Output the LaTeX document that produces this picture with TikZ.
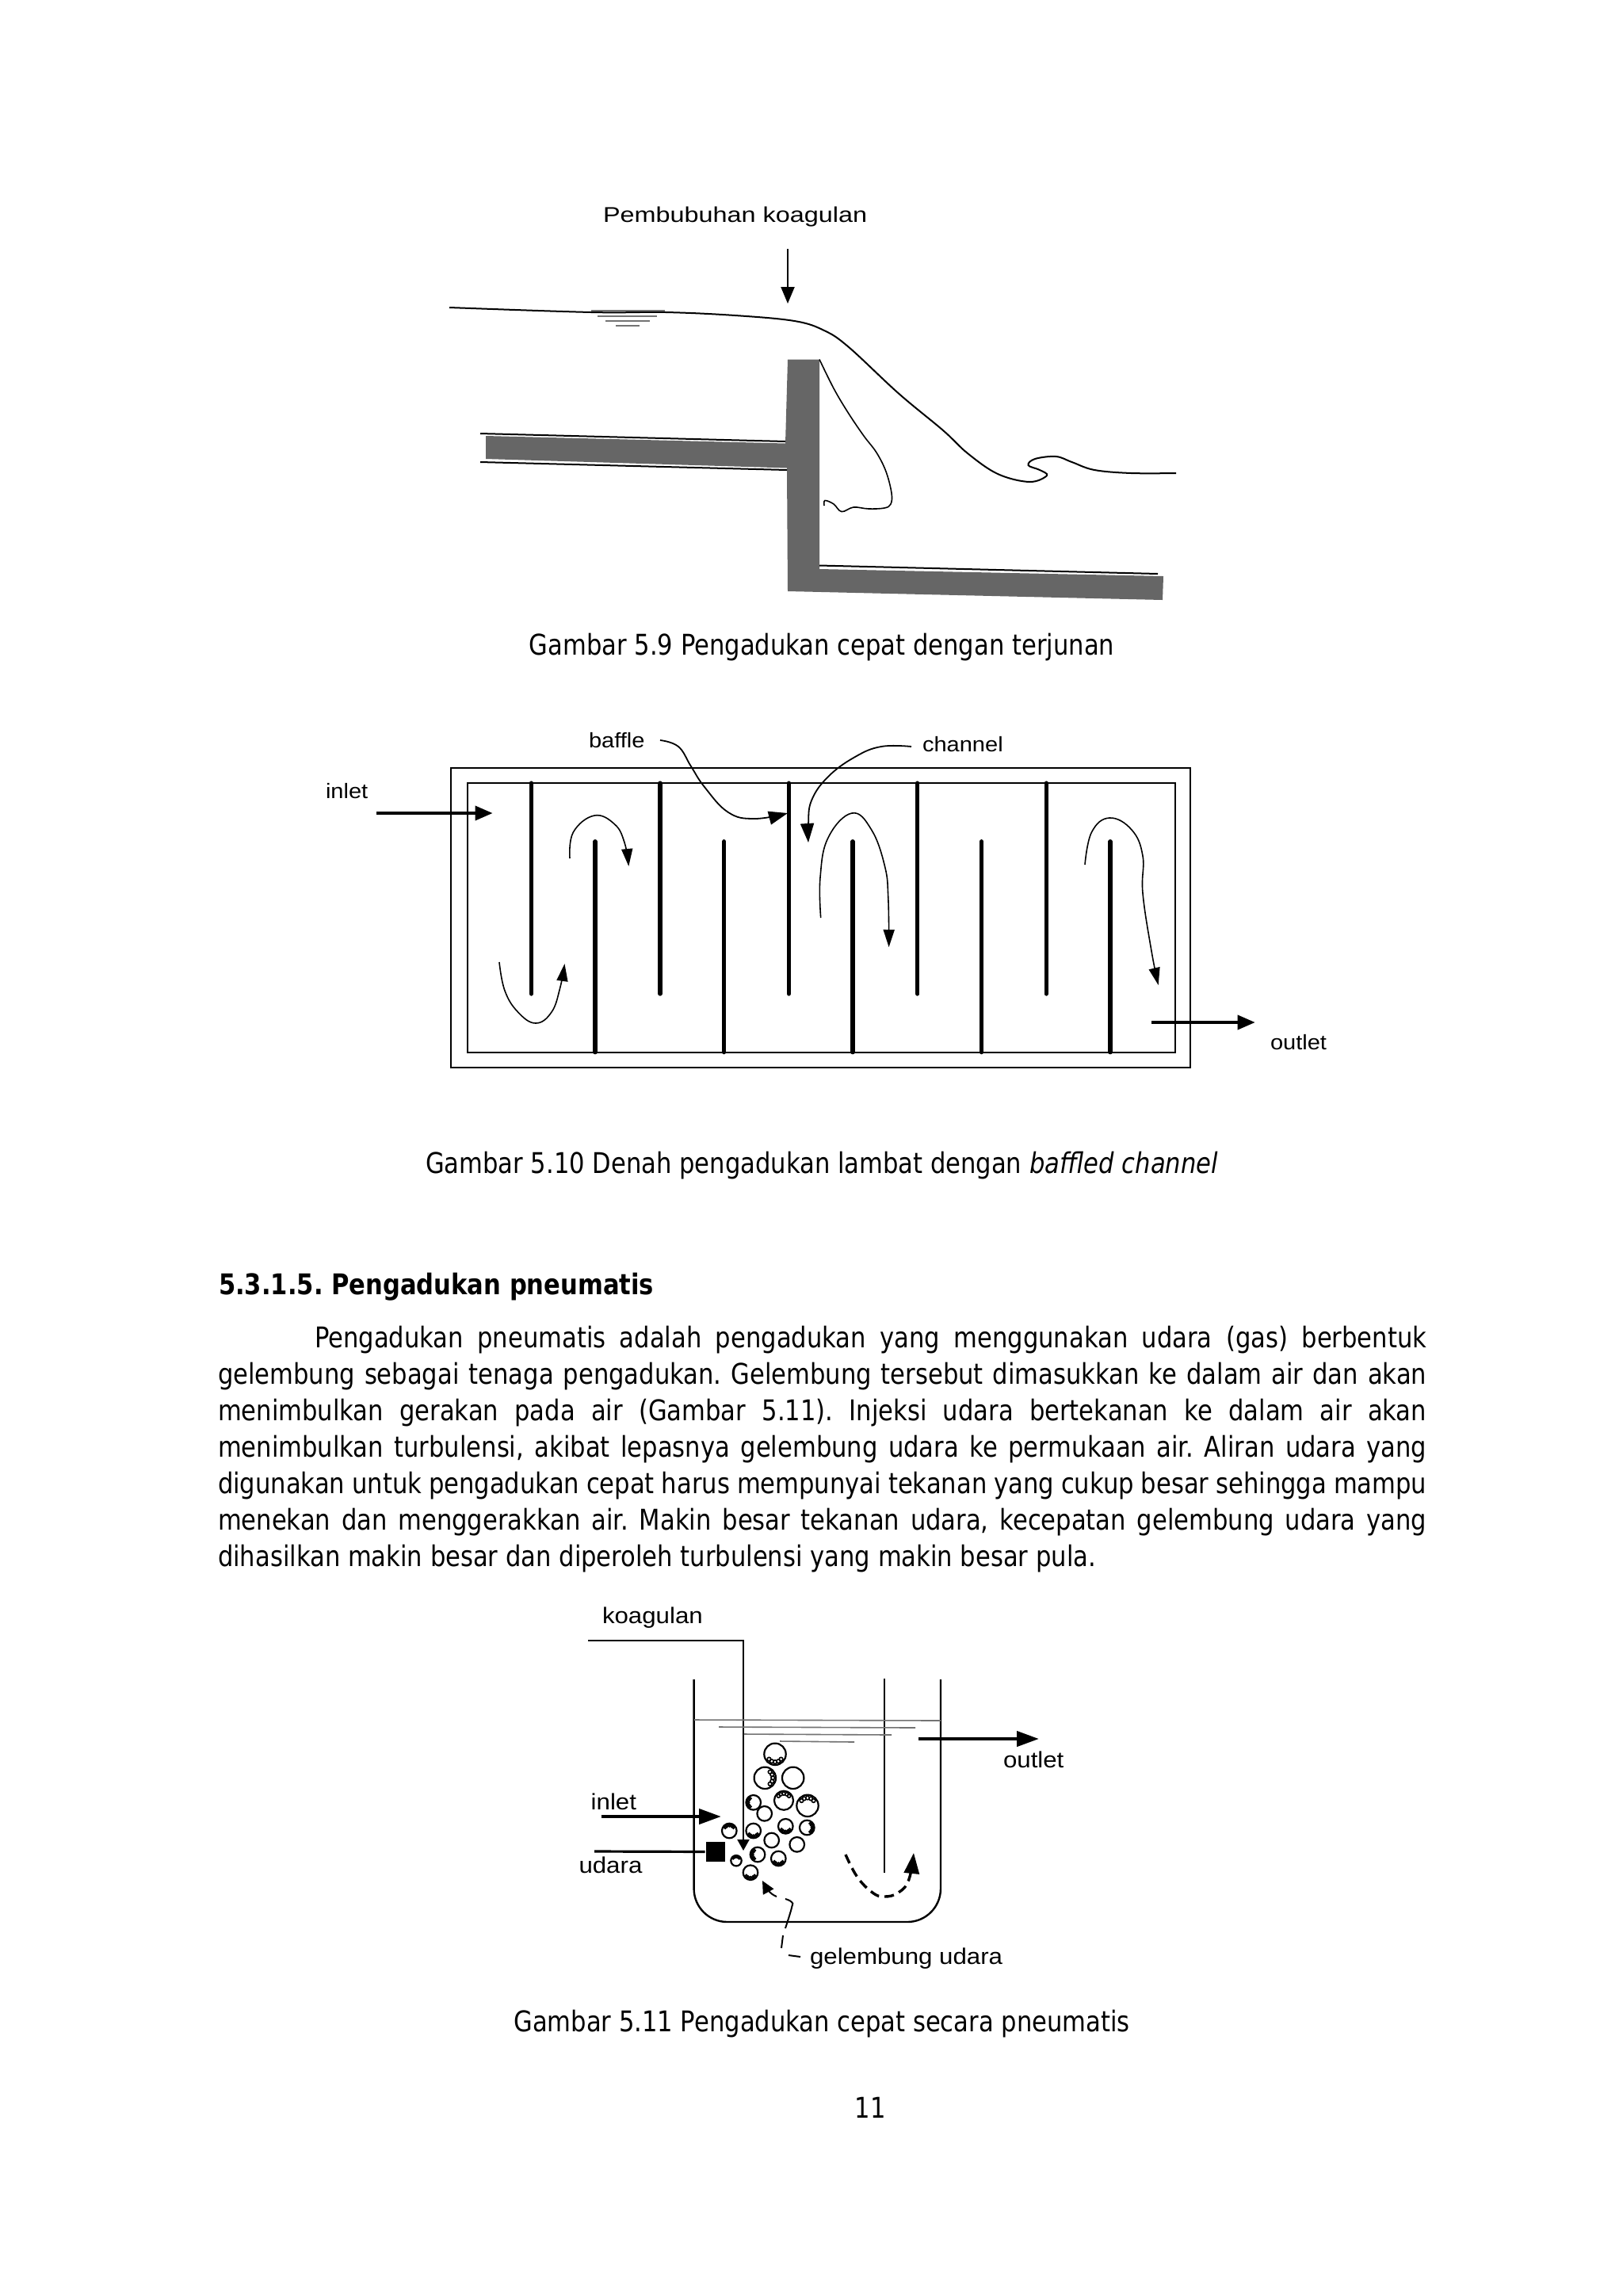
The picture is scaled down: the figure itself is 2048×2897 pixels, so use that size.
\documentclass[tikz,border=0pt]{standalone}
\usepackage{fontspec}
\setmainfont{DejaVu Sans}[FakeStretch=.85]
\newfontfamily\labelfont{Liberation Sans}[FakeStretch=1.1]
\newfontfamily\widelabelfont{Liberation Sans}[FakeStretch=1.2]
\usetikzlibrary{arrows.meta}
\frenchspacing
\tikzset{
  bodytext/.style={inner sep=0,font=\fontsize{18}{23}\selectfont},
  figlabel/.style={inner sep=0,anchor=base west,font=\labelfont\fontsize{13.2}{16}\selectfont},
  tanklabel/.style={figlabel,font=\labelfont\fontsize{14.2}{16}\selectfont},
  widelabel/.style={figlabel,font=\widelabelfont\fontsize{13.5}{15}\selectfont},
  widehead/.style={-{Stealth[inset=0,length=14pt,width=9.5pt]}},
  longhead/.style={-{Stealth[inset=0,length=11pt,width=7pt]}},
  flowline/.style={line width=.8pt,longhead},
  thickflow/.style={line width=2.2pt,widehead},
  baffleline/.style={line width=2.6pt,line cap=round},
  waterline/.style={line width=1pt,color=black!55},
  wallfill/.style={fill=black!60},
  bubbleline/.style={line width=1.1pt}
}
\begin{document}
\begin{tikzpicture}[x=.5pt,y=-.5pt,line width=1pt]
  \fill[white] (0,0) rectangle (2048,2897);
  \useasboundingbox (0,0) rectangle (2048,2897);

  \node[widelabel] (koaglabel) at (760,280) {Pembubuhan koagulan};
  \coordinate (dosea) at (994,314);
  \coordinate (doseb) at (994,383);
  \draw[line width=1.1pt,-{Stealth[inset=0,length=10.5pt,width=8.5pt]}] (dosea)--(doseb);
  \draw plot[smooth,tension=.6] coordinates {(567,388) (746,394) (840,394) (927.5,398) (1002.5,405) (1040,417) (1071,438) (1134,496.5) (1190,543) (1221,572) (1259,598) (1299,608) (1321,600) (1312,593) (1297.5,587) (1306,579) (1332.5,576) (1352.5,583) (1381,593) (1427.5,597) (1484,597)};
  \draw[waterline] (746,392)--(839,392);
  \draw[waterline] (754,399)--(829,399);
  \draw[waterline] (764,405)--(820,405);
  \draw[waterline] (777,411)--(807,411);
  \fill[wallfill] (994,453.5)--(1034,453.5)--(1034,718)--(1468,727)--(1467,757)--(994,746)--(993,593)--(993,590.5)--(613,579)--(613,550)--(991,559.5)--cycle;
  \draw (606,547)--(991,557);
  \draw (606,583)--(993,593);
  \draw (1034,713.5)--(1461,724);
  \draw[line width=.8pt] plot[smooth,tension=.6] coordinates {(1034,453.5) (1052.5,491) (1071,522) (1090,550) (1106,571) (1118,595) (1125,622) (1124,636) (1116,641) (1096,642) (1077,640) (1062,645.6) (1052,636) (1041,631.5) (1040,638)};
  \node[bodytext,anchor=base] (cap59) at (1037,826) {Gambar 5.9 Pengadukan cepat dengan terjunan};

  \draw (569.4,969) rectangle (1502,1346.7);
  \draw (589.6,988) rectangle (1482.7,1327.7);
  \foreach \bx in {670.4,833,995.3,1157.8,1320.2} {
    \draw[baffleline] (\bx,988)--(\bx,1254);
  }
  \foreach \bx in {751,913.7,1076,1238.6,1401} {
    \draw[baffleline] (\bx,1061.7)--(\bx,1327.7);
  }
  \node[figlabel] (inlettop) at (410,1007) {inlet};
  \node[figlabel] (outlettop) at (1602,1324) {outlet};
  \node[figlabel] (bafflelabel) at (742,943) {baffle};
  \node[figlabel] (channellabel) at (1163,948) {channel};
  \coordinate (inleta) at (475,1026);
  \coordinate (inletb) at (621.6,1026);
  \coordinate (outleta) at (1453,1290);
  \coordinate (outletb) at (1583.7,1290);
  \coordinate (baffletip) at (994,1026);
  \coordinate (channeltip) at (1020,1063);
  \draw[line width=1.8pt,-{Stealth[inset=0,length=11pt,width=9pt]}] (inleta)--(inletb);
  \draw[line width=1.8pt,-{Stealth[inset=0,length=11pt,width=9pt]}] (outleta)--(outletb);
  \draw[line width=.9pt,-{Stealth[inset=0,length=12pt,width=8.5pt]}] plot[smooth,tension=.7] coordinates {(833,934) (856,942) (872,967) (889,993) (919,1025) (952,1033) (baffletip)};
  \draw[line width=.9pt,-{Stealth[inset=0,length=12pt,width=8.5pt]}] plot[smooth,tension=.7] coordinates {(1150,942) (1112,942) (1079,955) (1045,980) (1024,1010) (1020,1040) (channeltip)};
  \draw[flowline] plot[smooth,tension=.7] coordinates {(630,1214) (637,1250) (653.6,1277) (676,1291) (696,1277) (706.6,1247) (712.5,1216)};
  \draw[flowline] plot[smooth,tension=.7] coordinates {(719,1083) (723.4,1050) (750,1029) (775.6,1040) (788,1063) (793.3,1093)};
  \draw[flowline] plot[smooth,tension=.7] coordinates {(1035.7,1158) (1035,1107) (1045,1057) (1075,1026) (1099.7,1047) (1116.5,1093) (1120.8,1133) (1121.6,1195)};
  \draw[flowline] plot[smooth,tension=.7] coordinates {(1369,1091) (1377.5,1050) (1400,1032) (1428,1047) (1442,1080) (1442,1127) (1453,1200) (1461.7,1243)};
  \node[bodytext,anchor=base] (cap510) at (1037,1480) {Gambar 5.10 Denah pengadukan lambat dengan \textit{baffled channel}};

  \node[bodytext,anchor=base west,font=\fontsize{18}{23}\selectfont\bfseries] (sectitle) at (275,1633) {5.3.1.5. Pengadukan pneumatis};
  \node[bodytext,anchor=north west,text width=762.5pt,align=justify] (bodypara) at (274,1672) {\hspace*{61pt}Pengadukan pneumatis adalah pengadukan yang menggunakan udara (gas) berbentuk\linebreak
  gelembung sebagai tenaga pengadukan. Gelembung tersebut dimasukkan ke dalam air dan akan\linebreak
  menimbulkan gerakan pada air (Gambar 5.11). Injeksi udara bertekanan ke dalam air akan\linebreak
  menimbulkan turbulensi, akibat lepasnya gelembung udara ke permukaan air. Aliran udara yang\linebreak
  digunakan untuk pengadukan cepat harus mempunyai tekanan yang cukup besar sehingga mampu\linebreak
  menekan dan menggerakkan air. Makin besar tekanan udara, kecepatan gelembung udara yang\linebreak
  dihasilkan makin besar dan diperoleh turbulensi yang makin besar pula.};

  \node[tanklabel] (koagbottom) at (759,2048) {koagulan};
  \coordinate (koaga) at (742,2070);
  \coordinate (koagb) at (938,2070);
  \coordinate (koagc) at (938,2335);
  \draw[line width=1.1pt,-{Stealth[inset=0,length=7pt,width=7.5pt]}] (koaga)--(koagb)--(koagc);
  \coordinate (tanka) at (875.6,2119);
  \coordinate (tankb) at (875.6,2425);
  \coordinate (tankc) at (1187,2425);
  \coordinate (tankd) at (1187,2119);
  \draw[line width=1.2pt,rounded corners=21pt] (tanka)--(tankb)--(tankc)--(tankd);
  \draw[line width=1.1pt] (1116,2118)--(1116,2363);
  \draw[waterline,line width=.8pt] (876,2170)--(1187,2171);
  \draw[waterline,line width=.8pt] (907,2179)--(1155,2180);
  \draw[waterline,line width=.8pt] (938.5,2188)--(1125,2189);
  \draw[waterline,line width=.8pt] (984,2197)--(1078,2198);
  \node[tanklabel] (outletlow) at (1265,2230) {outlet};
  \node[tanklabel] (inletlow) at (744.7,2283) {inlet};
  \node[tanklabel] (udaralabel) at (729.5,2363) {udara};
  \node[tanklabel] (bubblelabel) at (1021,2478) {gelembung udara};
  \coordinate (outa) at (1159,2194);
  \coordinate (outb) at (1311,2194);
  \coordinate (ina) at (758.5,2292);
  \coordinate (inb) at (910,2292);
  \coordinate (aira) at (750,2336);
  \coordinate (leadera) at (1010,2469);
  \coordinate (leaderb) at (995,2467);
  \coordinate (leaderc) at (986,2458);
  \coordinate (leaderd) at (988,2442);
  \coordinate (leadere) at (991,2433);
  \coordinate (leaderf) at (991,2396);
  \coordinate (leaderg) at (980,2393);
  \coordinate (leadertip) at (962,2373);
  \draw[thickflow] (outa)--(outb);
  \draw[thickflow] (ina)--(inb);
  \node[fill=black,inner sep=0,minimum width=12pt,minimum height=12.5pt] (diffuser) at (902.5,2336.5) {};
  \draw[line width=1.6pt] (aira)--(diffuser);
  \draw[line width=1.7pt,dashed,dash pattern=on 6pt off 3.5pt,-{Stealth[inset=0,length=13pt,width=9.5pt]}] plot[smooth,tension=.7] coordinates {(1067,2340) (1081.6,2368) (1101,2388) (1116,2393) (1133.6,2388) (1146.7,2372) (1153,2338)};
  \draw (leadera)--(leaderb);
  \draw (leaderc)--(leaderd);
  \draw plot[smooth,tension=.8] coordinates {(leadere) (999,2407) (999,2400) (leaderf)};
  \draw[-{Stealth[inset=0,length=8pt,width=7.5pt]}] plot[smooth,tension=.7] coordinates {(leaderg) (971,2387) (leadertip)};
  \foreach \bx/\by/\br/\ba in {978/2213.3/13.7/90,965.3/2243.3/13.7/0,1000.7/2243.3/13.7/-1,950.7/2274.3/9.3/180,989/2271.7/12/270,1019/2278.3/13.7/270,964.7/2288.3/9.3/-1,920.3/2310/9.3/270,950.7/2310/9.3/90,991.3/2304.3/9.3/90,1018.3/2306/9.3/0,973.7/2322/9.3/-1,1005.7/2327.3/9.3/-1,956/2340/9.3/180,982.3/2345/9.3/90,929/2347.7/6.7/270,947/2362.7/9.3/90} {
    \draw[bubbleline] (\bx,\by) circle[radius=\br];
    \ifnum\ba<0\else
      \foreach \bt in {-50,-25,0,25,50} {
        \draw[line width=.8pt] ({\bx+.72*\br*cos(\ba+\bt)},{\by+.72*\br*sin(\ba+\bt)}) circle[radius=.17*\br];
      }
    \fi
  }
  \node[bodytext,anchor=base] (cap511) at (1037,2563) {Gambar 5.11 Pengadukan cepat secara pneumatis};
  \node[bodytext,anchor=base] (pagenum) at (1098,2672) {11};
\end{tikzpicture}
\end{document}
